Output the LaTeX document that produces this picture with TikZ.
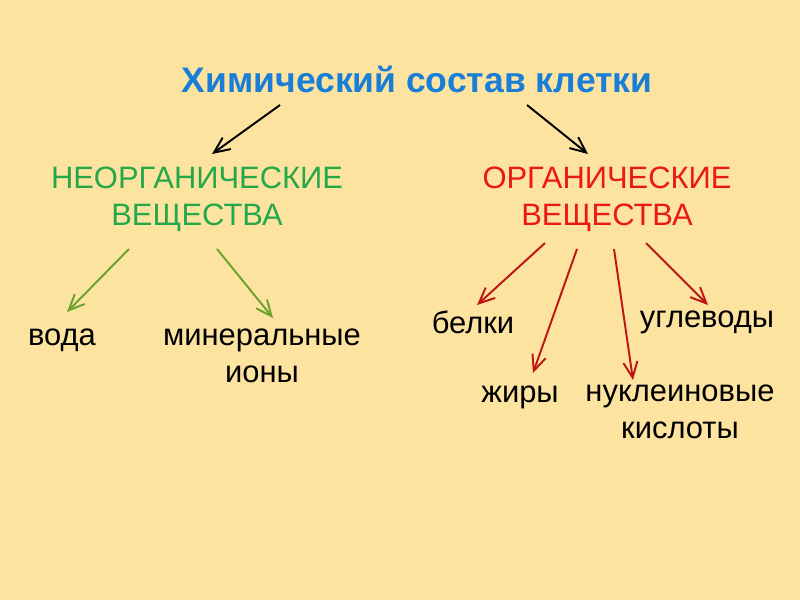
\documentclass[tikz,border=0pt]{standalone}
\usepackage{fontspec}
\setmainfont{Liberation Sans}
\usetikzlibrary{arrows.meta,calc}
\definecolor{bgcolor}{RGB}{253,227,160}
\definecolor{titlecolor}{RGB}{24,126,216}
\definecolor{inorgcolor}{RGB}{36,168,74}
\definecolor{orgcolor}{RGB}{234,24,24}
\definecolor{inorgarrow}{RGB}{104,164,44}
\definecolor{orgarrow}{RGB}{190,20,20}

\begin{document}
\begin{tikzpicture}[x=0.02cm, y=-0.02cm,
    every node/.style={inner sep=0pt,anchor=base,align=center,
                       font=\fontsize{17.6}{21}\selectfont},
    head/.style={font=\bfseries\fontsize{20.2}{24}\selectfont,text=titlecolor},
    group/.style={text=black},
    arr/.style={-{Straight Barb[length=9pt,width=8pt]},line width=1.1pt}]

  % Background and page size
  \fill[bgcolor] (0,0) rectangle (800,600);
  \useasboundingbox (0,0) rectangle (800,600);

  % Title
  \node[head] (title) at (417,92) {Химический состав клетки};

  % Two groups of substances (base = last line)
  \node[text=inorgcolor] (inorg) at (197,225) {НЕОРГАНИЧЕСКИЕ\\ВЕЩЕСТВА};
  \node[text=orgcolor]   (org)   at (607,225) {ОРГАНИЧЕСКИЕ\\ВЕЩЕСТВА};

  % Inorganic items
  \node[group] (water)    at (62,345)  {вода};
  \node[group] (minerals) at (262,382) {минеральные\\ионы};

  % Organic items
  \node[group] (proteins) at (473,333) {белки};
  \node[group] (carbs)    at (707,327) {углеводы};
  \node[group] (fats)     at (520,402) {жиры};
  \node[group] (nucleic)  at (680,438) {нуклеиновые\\кислоты};

  % Title -> groups
  \draw[arr,black] ($(title.base)+(-137,13)$) -- ($(inorg.base)+(15,-71)$);
  \draw[arr,black] ($(title.base)+(110,13)$) -- ($(org.base)+(-19,-71)$);

  % Inorganic -> items
  \draw[arr,inorgarrow] ($(inorg.base)+(-68,24)$) -- ($(water.base)+(5,-33)$);
  \draw[arr,inorgarrow] ($(inorg.base)+(20,24)$) -- ($(minerals.base)+(11,-64)$);

  % Organic -> items
  \draw[arr,orgarrow] ($(org.base)+(-62,18)$) -- ($(proteins.base)+(4,-28)$);
  \draw[arr,orgarrow] ($(org.base)+(-30,24)$) -- ($(fats.base)+(13,-29)$);
  \draw[arr,orgarrow] ($(org.base)+(7,24)$) -- ($(nucleic.base)+(-47,-58)$);
  \draw[arr,orgarrow] ($(org.base)+(39,18)$) -- ($(carbs.base)+(1,-22)$);

\end{tikzpicture}
\end{document}
